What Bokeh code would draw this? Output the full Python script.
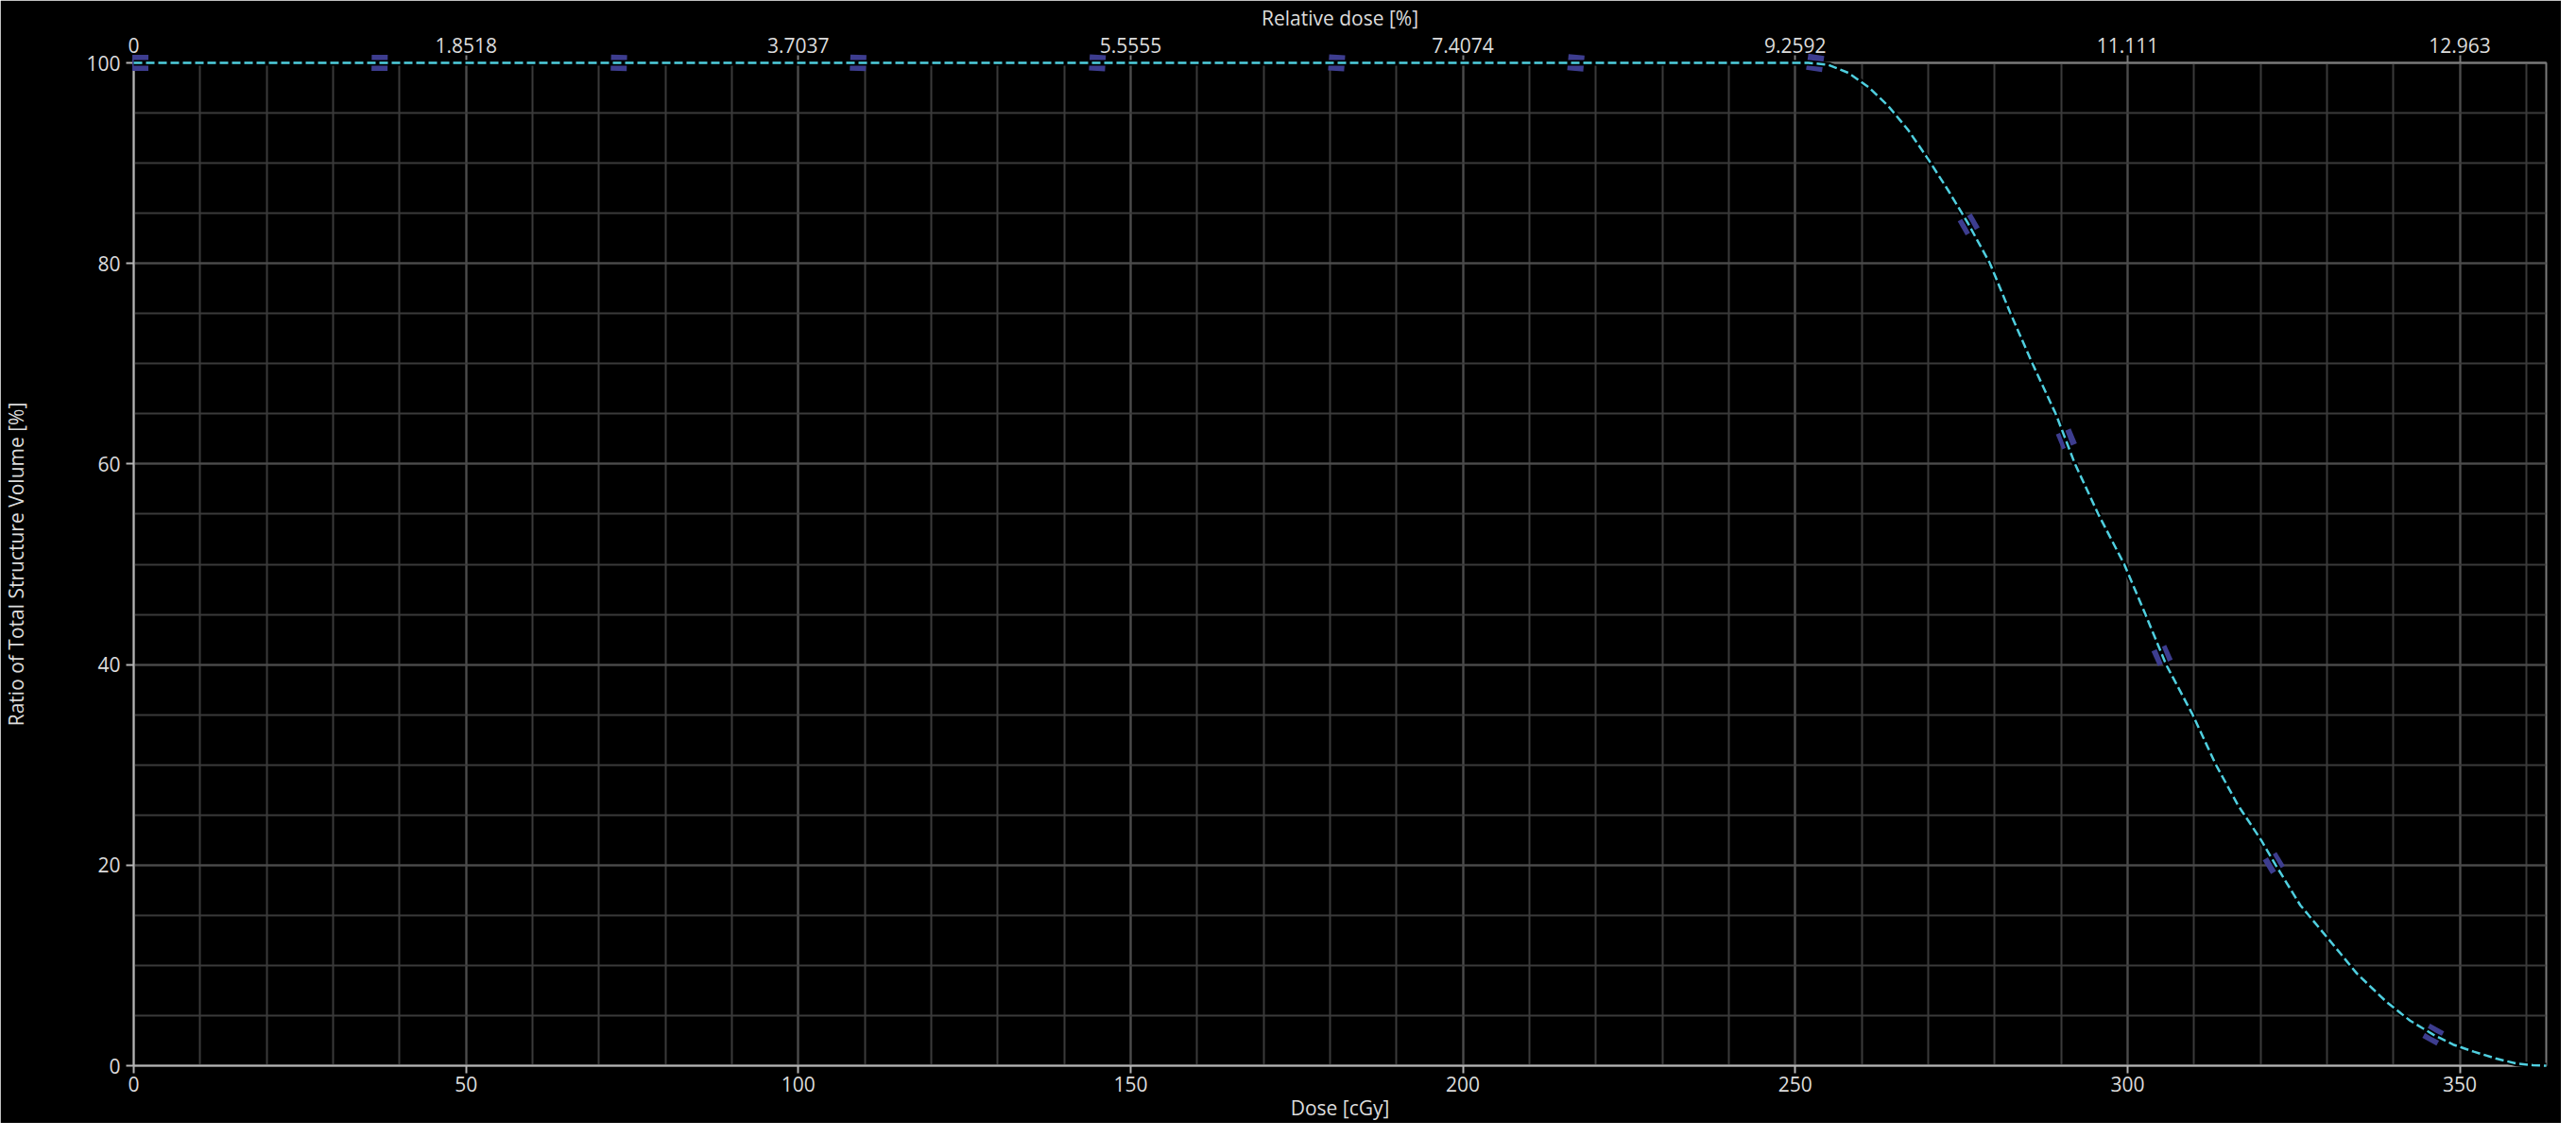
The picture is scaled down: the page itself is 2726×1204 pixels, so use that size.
import numpy as np
from bokeh.plotting import figure
from bokeh.models import Range1d, LinearAxis, FixedTicker
from bokeh.embed import file_html
from bokeh.resources import INLINE

# ---- data ----
dose_curve = [0, 252, 255, 258, 261, 264, 267, 270, 273, 276, 279.3, 282.4, 285.7, 289.2, 292.1,
              295.6, 299.5, 302.7, 305.8, 309.8, 313.3, 316.6, 320.0, 322.3, 326.0,
              330.4, 334.5, 338.9, 342.5, 346.0, 349.0, 352.1, 355.5, 358.6, 361.0, 363.0]
volume_curve = [100, 100, 99.8, 99.0, 97.6, 95.7, 93.3, 90.4, 87.3, 84.0, 80.0, 75.0, 70.0, 65.0, 60.0,
                55.0, 50.0, 45.0, 40.0, 35.0, 30.0, 26.0, 22.6, 20.0, 16.0,
                12.5, 9.2, 6.4, 4.5, 3.1, 2.1, 1.4, 0.7, 0.2, 0.05, 0.0]
marker_dose = [1, 37, 73, 109, 145, 181, 217, 253, 276.1, 290.8, 305.2, 322.0, 346.0]
marker_volume = [100, 100, 100, 100, 100, 100, 100, 100, 83.9, 62.5, 40.9, 20.2, 3.1]

dose_ticks = [0, 50, 100, 150, 200, 250, 300, 350]
dose_minor = list(range(0, 370, 10))
relative_dose_labels = ["0", "1.8518", "3.7037", "5.5555", "7.4074", "9.2592", "11.111", "12.963"]
volume_ticks = [0, 20, 40, 60, 80, 100]
volume_minor = list(range(0, 105, 5))

FONT = "Open Sans"
TXT = "#dcdcdc"

W, H = 2710, 1188
p = figure(width=W, height=H, output_backend="svg", toolbar_location=None,
           x_range=Range1d(0, 363), y_range=Range1d(0, 100),
           background_fill_color="black", border_fill_color="black",
           min_border_left=136, min_border_right=16, min_border_top=66, min_border_bottom=40,
           x_axis_label="Dose [cGy]", y_axis_label="Ratio of Total Structure Volume [%]")

p.outline_line_color = "#7a7a7a"
p.outline_line_width = 2

bottom = p.below[0]
left = p.left[0]
top = LinearAxis(axis_label="Relative dose [%]")
p.add_layout(top, "above")

def style_axis(ax, line_color):
    ax.axis_line_color = line_color
    ax.axis_line_width = 2
    ax.major_tick_line_color = line_color
    ax.major_tick_line_width = 2
    ax.major_tick_out = 8
    ax.major_tick_in = 0
    ax.minor_tick_out = 0
    ax.minor_tick_in = 0
    ax.major_label_text_color = TXT
    ax.major_label_text_font = FONT
    ax.major_label_text_font_size = "21px"
    ax.axis_label_text_color = TXT
    ax.axis_label_text_font = FONT
    ax.axis_label_text_font_size = "21px"
    ax.axis_label_text_font_style = "normal"

bottom.ticker = FixedTicker(ticks=dose_ticks, minor_ticks=dose_minor)
top.ticker = FixedTicker(ticks=dose_ticks, minor_ticks=dose_minor)
top.major_label_overrides = {t: lab for t, lab in zip(dose_ticks, relative_dose_labels)}
left.ticker = FixedTicker(ticks=volume_ticks, minor_ticks=volume_minor)

style_axis(bottom, "#b4b4b4")
style_axis(left, "#b4b4b4")
style_axis(top, "#7a7a7a")
bottom.major_label_standoff = 3
bottom.axis_label_standoff = 0
top.major_label_standoff = 3
top.axis_label_standoff = 4
left.major_label_standoff = 6
left.axis_label_standoff = 57

for g in (p.xgrid[0], p.ygrid[0]):
    g.grid_line_color = "#4c4c4c"
    g.grid_line_width = 2
    g.minor_grid_line_color = "#3a3a3a"
    g.minor_grid_line_width = 2

# marker orientation along the curve (screen space)
kx = (W - 136 - 16) / 363.0
ky = (H - 66 - 62) / 100.0
slope = np.gradient(np.array(volume_curve, float), np.array(dose_curve, float))
m_slope = np.interp(marker_dose, dose_curve, slope)
angles = list(np.arctan(m_slope * ky / kx))

sc = p.scatter(marker_dose, marker_volume, marker="square", size=17, angle=angles,
               fill_color="#3d3d8f", line_color=None)
halo = p.line(dose_curve, volume_curve, line_color="black", line_width=6)
dash = p.line(dose_curve, volume_curve, line_color="#4fcfdf", line_width=2.5, line_dash="9 4")
for r in (sc, halo, dash):
    r.level = "overlay"

open("out.html", "w").write(file_html(p, INLINE))
